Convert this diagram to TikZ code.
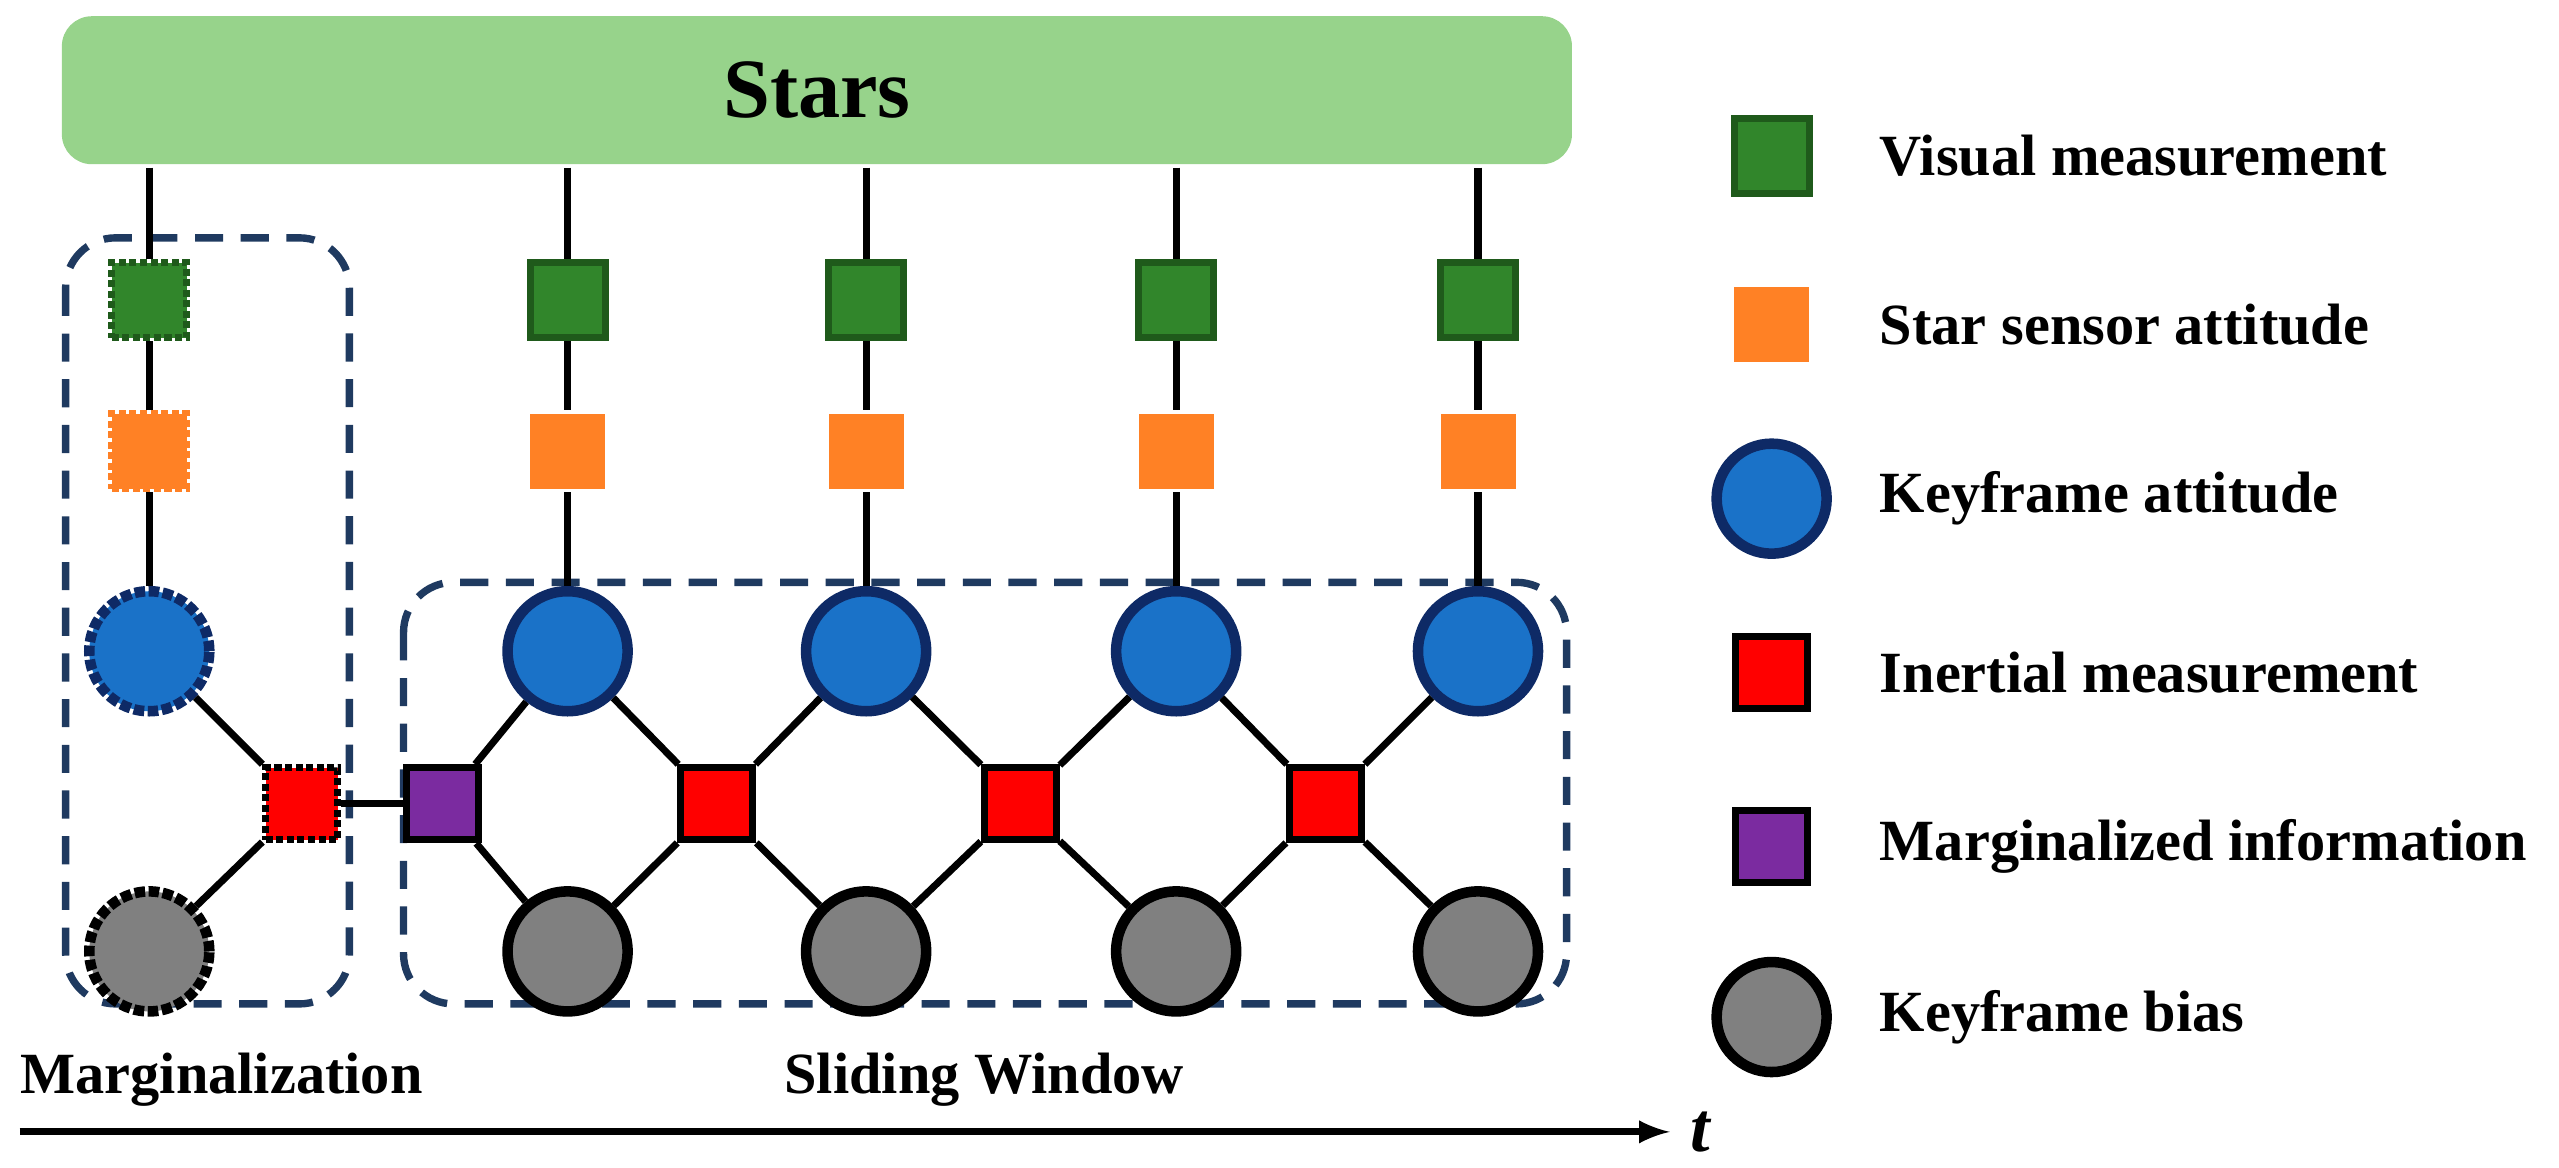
\documentclass[tikz,border=0pt]{standalone}
\usepackage{fontspec}
\setmainfont{Liberation Serif}
\usetikzlibrary{positioning}
\definecolor{starg}{HTML}{97D38B}
\definecolor{visg}{HTML}{31862B}
\definecolor{dvisg}{HTML}{1F5A1B}
\definecolor{orng}{HTML}{FF8125}
\definecolor{kblue}{HTML}{1A72C8}
\definecolor{dblue}{HTML}{0E2A66}
\definecolor{purp}{HTML}{7B2BA0}
\definecolor{boxc}{HTML}{1F3A60}
\begin{document}
\begin{tikzpicture}
      [x=0.0164cm,y=-0.0164cm,line width=2pt,
      vis/.style={rectangle,minimum size=0.75cm,fill=visg,draw=dvisg,inner sep=0pt},
      att/.style={rectangle,minimum size=0.75cm,fill=orng,inner sep=0pt},
      kf/.style={circle,minimum size=1.2cm,fill=kblue,draw=dblue,line width=3pt,inner sep=0pt},
      imu/.style={rectangle,minimum size=0.72cm,fill=red,draw=black,inner sep=0pt},
      marg/.style={rectangle,minimum size=0.72cm,fill=purp,draw=black,inner sep=0pt},
      bias/.style={circle,minimum size=1.2cm,fill=gray,draw=black,line width=3pt,inner sep=0pt},
      old/.style={densely dotted},
      win/.style={draw=boxc,dash pattern=on 8pt off 5pt,rounded corners=0.5cm,line width=2.1pt},
      lbl/.style={font=\bfseries\fontsize{16.6}{20}\selectfont}]
      \useasboundingbox (0,0) rectangle (1560,712);
      \node[fill=starg,rounded corners=0.3cm,minimum width=15.1cm,minimum height=1.48cm,
        font=\bfseries\fontsize{24}{28}\selectfont] (stars) at (498,55) {Stars};
      % marginalized part
      \draw[win] (40,145) rectangle (213,612);
      \draw[win] (246,355) rectangle (955,612);
      \node[vis,old,draw=dvisg] (v0) at (91,183) {};
      \node[att,old,draw=orng] (a0) at (91,275) {};
      \node[kf,old] (k0) at (91,397) {};
      \node[bias,old] (b0) at (91,580) {};
      \node[imu,old] (i0) at (184,490) {};
      \node[marg] (m) at (270,490) {};
      \draw (stars.south -| v0) -- (v0) -- (a0) -- (k0);
      \draw (k0) -- (i0) -- (b0);
      \draw (i0) -- (m);
      % sliding window
      \foreach \n/\x in {1/346,2/528,3/717,4/901}{
        \node[vis] (v\n) at (\x,183) {};
        \node[att] (a\n) at (\x,275) {};
        \node[kf] (k\n) at (\x,397) {};
        \node[bias] (b\n) at (\x,580) {};
        \draw (stars.south -| v\n) -- (v\n) -- (a\n) -- (k\n);
      }
      \node[imu] (i1) at (437,490) {};
      \node[imu] (i2) at (622,490) {};
      \node[imu] (i3) at (808,490) {};
      \draw (m) -- (k1); \draw (m) -- (b1);
      \foreach \a/\b in {1/2,2/3,3/4}{
        \draw (k\a) -- (i\a) -- (k\b);
        \draw (b\a) -- (i\a) -- (b\b);
      }
      \node[lbl] (mlbl) at (135,658) {Marginalization};
      \node[lbl] (swlbl) at (600,658) {Sliding Window};
      \coordinate (t0) at (12,690);
      \coordinate (t1) at (1018,690);
      \draw[-latex] (t0) -- (t1);
      \node[font=\bfseries\itshape\fontsize{20}{24}\selectfont,right=0.05cm of t1] (t) {t};
      % legend
      \node[vis] (lv) at (1080,95) {};
      \node[att] (la) at (1080,198) {};
      \node[kf,minimum size=1.1cm] (lk) at (1080,304) {};
      \node[imu] (li) at (1080,410) {};
      \node[marg] (lm) at (1080,516) {};
      \node[bias,minimum size=1.1cm] (lb) at (1080,620) {};
      \foreach \s/\txt in {lv/Visual measurement,la/Star sensor attitude,lk/Keyframe attitude,
        li/Inertial measurement,lm/Marginalized information,lb/Keyframe bias}
        \node[lbl,anchor=west] at ([xshift=0.93cm]\s.center) {\txt};
\end{tikzpicture}
\end{document}
